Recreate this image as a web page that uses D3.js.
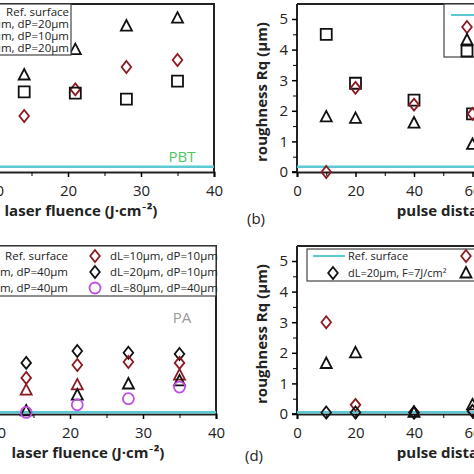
<!DOCTYPE html><html><head><meta charset="utf-8">
<script src="https://cdn.jsdelivr.net/npm/d3@7"></script>
<style>body{margin:0;background:#fff}text{font-family:"Open Sans",Calibri,sans-serif}</style></head><body>
<svg id="c" width="474" height="474"></svg>
<script>
const fluence=[14,21,28,35];
const pulse=[10,20,40,60];
const aTri=[3.17,4.0,4.77,5.03], aDia=[1.83,2.7,3.43,3.66], aSq=[2.62,2.58,2.38,2.97];
const bSq=[4.5,2.9,2.35,1.9], bDia=[0.0,2.75,2.2,1.9], bTri=[1.8,1.75,1.6,0.9];
const cBDia=[1.67,2.06,2.0,1.96], cRDia=[1.18,1.6,1.7,1.67], cRTri=[0.78,0.95,null,1.27], cBTri=[0.1,0.62,0.98,1.08], cCirc=[0.05,0.3,0.5,0.88];
const dRDia=[3.0,0.3,0.05,0.1], dTri=[1.65,2.0,0.05,0.3], dBDia=[0.05,0.05,0.05,0.1];
const refA=0.17, refB=0.17, refC=0.06, refD=0.06;
const fluTicks=[10,20,30,40], pulTicks=[0,20,40,60], yTicks=[0,1,2,3,4,5];
const legA=["Ref. surface","dL=10µm, dP=20µm","dL=20µm, dP=10µm","dL=20µm, dP=20µm"];
const legCL=["Ref. surface","dL=20µm, dP=40µm","dL=40µm, dP=40µm"], legCR=["dL=10µm, dP=10µm","dL=20µm, dP=10µm","dL=80µm, dP=40µm"];
const RED="#8b1a22", CY="#5cc9d2", PUR="#c04fe0";
const svg=d3.select("#c");
function mk(g,type,x,y,col){
  const s=6;let p;
  if(type==="dia")p=`M${x},${y-s}L${x+s*0.8},${y}L${x},${y+s}L${x-s*0.8},${y}Z`;
  else if(type==="sq")p=`M${x-5.5},${y-5.5}h11v11h-11Z`;
  else if(type==="tri")p=`M${x},${y-6}L${x+5.5},${y+4.5}L${x-5.5},${y+4.5}Z`;
  if(type==="circ")g.append("circle").attr("cx",x).attr("cy",y).attr("r",5.5).attr("fill","none").attr("stroke",col).attr("stroke-width",1.8);
  else g.append("path").attr("d",p).attr("fill","none").attr("stroke",col).attr("stroke-width",1.8);
}
function panel(o){
  const x=d3.scaleLinear().domain(o.xd).range(o.xr), y=d3.scaleLinear().domain([0,5]).range([o.y0,o.y0-153]);
  const g=svg.append("g");
  g.append("g").attr("transform",`translate(0,${o.y0})`).call(d3.axisBottom(x).tickValues(o.xt).tickSize(5).tickFormat(d3.format("d"))).call(a=>{a.select(".domain").attr("stroke","#222").attr("stroke-width",2);a.selectAll("text").attr("font-size",15).attr("fill","#222").attr("y",13);a.selectAll("line").attr("stroke-width",1.5)});
  g.append("g").attr("transform",`translate(0,${o.y0})`).call(d3.axisBottom(x).tickValues(o.xm).tickSize(4).tickFormat("")).call(a=>a.select(".domain").remove());
  if(o.yaxis){
    g.append("g").attr("transform",`translate(${o.xr[0]},0)`).call(d3.axisLeft(y).tickValues(yTicks).tickSize(5).tickFormat(d3.format("d"))).call(a=>{a.select(".domain").attr("stroke","#222").attr("stroke-width",2).attr("d",`M-5,${o.y0}H0V${o.top}`);a.selectAll("text").attr("font-size",15).attr("fill","#222").attr("x",-9);a.selectAll("line").attr("stroke-width",1.5)});
    g.append("g").attr("transform",`translate(${o.xr[0]},0)`).call(d3.axisLeft(y).tickValues(d3.range(0.5,5.5,1)).tickSize(4).tickFormat("")).call(a=>a.select(".domain").remove());
    g.append("text").attr("transform",`translate(${o.xr[0]-30},${o.y0-80}) rotate(-90)`).attr("text-anchor","middle").attr("font-size",15).attr("font-weight","bold").attr("fill","#222").text("roughness Rq (µm)");
  } else {
    g.append("line").attr("x1",o.xr[1]).attr("x2",o.xr[1]).attr("y1",o.top).attr("y2",o.y0).attr("stroke","#222").attr("stroke-width",2);
  }
  g.append("line").attr("x1",o.yaxis?o.xr[0]:-5).attr("x2",o.yaxis?480:o.xr[1]+1).attr("y1",o.top).attr("y2",o.top).attr("stroke","#222").attr("stroke-width",2);
  g.append("line").attr("x1",o.yaxis?o.xr[0]:0).attr("x2",o.yaxis?480:o.xr[1]).attr("y1",y(o.ref)).attr("y2",y(o.ref)).attr("stroke",CY).attr("stroke-width",2.5);
  o.series.forEach(s=>s.v.forEach((v,i)=>{if(v!=null)mk(g,s.t,x(o.xs[i]),y(v),s.c)}));
  g.append("text").attr("x",o.lx).attr("y",o.y0+44).attr("text-anchor","middle").attr("font-size",15).attr("font-weight","bold").attr("fill","#222").text(o.label);
  return g;
}
const A=panel({xd:[10,40],xr:[-5,214],xt:fluTicks,xm:[15,25,35],y0:172,top:4,yaxis:false,ref:refA,xs:fluence,lx:81,label:"laser fluence (J·cm⁻²)",
 series:[{t:"tri",v:aTri,c:"#111"},{t:"dia",v:aDia,c:RED},{t:"sq",v:aSq,c:"#111"}]});
A.append("text").attr("x",182).attr("y",162).attr("text-anchor","middle").attr("font-size",15).attr("fill","#4cc860").text("PBT");
A.append("rect").attr("x",-5).attr("y",4).attr("width",76).attr("height",51).attr("fill","#fff").attr("stroke","#444").attr("stroke-width",1.2);
legA.forEach((t,i)=>A.append("text").attr("x",69).attr("y",16+i*12).attr("text-anchor","end").attr("font-size",11.5).attr("fill","#222").text(t));
const B=panel({xd:[0,80],xr:[297,531],xt:pulTicks,xm:[10,30,50],y0:172,top:4,yaxis:true,ref:refB,xs:pulse,lx:470,label:"pulse distance (µm)",
 series:[{t:"sq",v:bSq,c:"#111"},{t:"tri",v:bTri,c:"#111"},{t:"dia",v:bDia,c:RED}]});
B.append("rect").attr("x",444).attr("y",4).attr("width",40).attr("height",53).attr("fill","#fff").attr("stroke","#444").attr("stroke-width",1.2);
B.append("line").attr("x1",451).attr("x2",480).attr("y1",15).attr("y2",15).attr("stroke",CY).attr("stroke-width",2);
mk(B,"dia",467,27,RED);mk(B,"tri",467,40,"#111");mk(B,"sq",467,51,"#111");
svg.append("text").attr("x",247).attr("y",224).attr("font-size",15).attr("fill","#222").text("(b)");
const C=panel({xd:[10,40],xr:[-3,216],xt:fluTicks,xm:[15,25,35],y0:414,top:246,yaxis:false,ref:refC,xs:fluence,lx:88,label:"laser fluence (J·cm⁻²)",
 series:[{t:"dia",v:cBDia,c:"#111"},{t:"dia",v:cRDia,c:RED},{t:"tri",v:cRTri,c:RED},{t:"tri",v:cBTri,c:"#111"},{t:"circ",v:cCirc,c:PUR}]});
C.append("text").attr("x",182).attr("y",323).attr("text-anchor","middle").attr("font-size",15).attr("fill","#999").text("PA");
C.append("rect").attr("x",-5).attr("y",246).attr("width",221).attr("height",50).attr("fill","#fff").attr("stroke","#444").attr("stroke-width",1.2);
legCL.forEach((t,i)=>C.append("text").attr("x",68).attr("y",260+i*16).attr("text-anchor","end").attr("font-size",11.5).attr("fill","#222").text(t));
legCR.forEach((t,i)=>C.append("text").attr("x",110).attr("y",260+i*16).attr("font-size",11.5).attr("fill","#222").text(t));
mk(C,"dia",95,256,RED);mk(C,"dia",95,272,"#111");mk(C,"circ",95,288,PUR);
const D=panel({xd:[0,80],xr:[297,531],xt:pulTicks,xm:[10,30,50],y0:414,top:246,yaxis:true,ref:refD,xs:pulse,lx:470,label:"pulse distance (µm)",
 series:[{t:"dia",v:dRDia,c:RED},{t:"tri",v:dTri,c:"#111"},{t:"dia",v:dBDia,c:"#111"}]});
D.append("rect").attr("x",307).attr("y",249).attr("width",180).attr("height",32).attr("fill","#fff").attr("stroke","#444").attr("stroke-width",1.2);
D.append("line").attr("x1",313).attr("x2",345).attr("y1",256).attr("y2",256).attr("stroke",CY).attr("stroke-width",2);
D.append("text").attr("x",348).attr("y",260).attr("font-size",11).attr("fill","#222").text("Ref. surface");
mk(D,"dia",333,273,"#111");
D.append("text").attr("x",348).attr("y",277).attr("font-size",11).attr("fill","#222").text("dL=20µm, F=7J/cm²");
mk(D,"dia",466,256,RED);mk(D,"tri",466,273,"#111");
svg.append("text").attr("x",245).attr("y",461).attr("font-size",15).attr("fill","#222").text("(d)");
</script></body></html>
